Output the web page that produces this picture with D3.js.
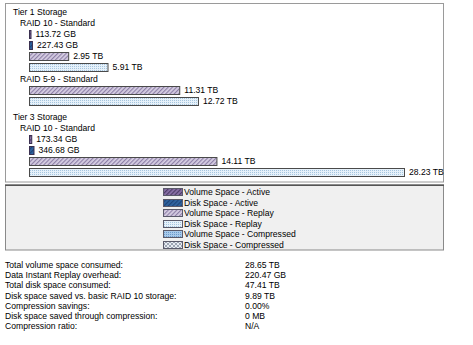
<!DOCTYPE html>
<html><head><meta charset="utf-8">
<script src="https://cdn.jsdelivr.net/npm/d3@7"></script>
<style>
html,body{margin:0;padding:0;background:#fff;}
svg{display:block;font-family:"Liberation Sans",Arial,sans-serif;}
</style></head>
<body>
<svg id="c" width="473" height="345"></svg>
<script>
const seriesNames = ["Volume Space - Active","Disk Space - Active","Volume Space - Replay","Disk Space - Replay","Volume Space - Compressed","Disk Space - Compressed"];
const tierNames = ["Tier 1 Storage","Tier 3 Storage"];
const groupNames = ["RAID 10 - Standard","RAID 5-9 - Standard","RAID 10 - Standard"];
const groupTier = [0,0,1];
const groupSeries = [[0,1,2,3],[2,3],[0,1,2,3]];
const groupValues = [[113.72,227.43,2.95,5.91],[11.31,12.72],[173.34,346.68,14.11,28.23]];
const groupUnits = [["GB","GB","TB","TB"],["TB","TB"],["GB","GB","TB","TB"]];
const summaryLabels = ["Total volume space consumed:","Data Instant Replay overhead:","Total disk space consumed:","Disk space saved vs. basic RAID 10 storage:","Compression savings:","Disk space saved through compression:","Compression ratio:"];
const summaryValues = ["28.65 TB","220.47 GB","47.41 TB","9.89 TB","0.00%","0 MB","N/A"];

const svg = d3.select("#c");
const FS = 8.6;
const defs = svg.append("defs");
function stripes(id,bg,fg){
  const p = defs.append("pattern").attr("id",id).attr("patternUnits","userSpaceOnUse")
    .attr("width",3).attr("height",3).attr("patternTransform","rotate(45)");
  p.append("rect").attr("width",3).attr("height",3).attr("fill",bg);
  p.append("rect").attr("width",1.2).attr("height",3).attr("fill",fg);
}
function dots(id,bg,fg){
  const p = defs.append("pattern").attr("id",id).attr("patternUnits","userSpaceOnUse")
    .attr("width",2).attr("height",2);
  p.append("rect").attr("width",2).attr("height",2).attr("fill",bg);
  p.append("rect").attr("width",1).attr("height",1).attr("fill",fg);
}
function checker(id,bg,fg){
  const p = defs.append("pattern").attr("id",id).attr("patternUnits","userSpaceOnUse")
    .attr("width",4).attr("height",4);
  p.append("rect").attr("width",4).attr("height",4).attr("fill",bg);
  p.append("path").attr("d","M0,0L4,4M4,0L0,4").attr("stroke",fg).attr("stroke-width",0.8);
}
stripes("p0","#8a72a8","#4e3c68");
stripes("p1","#2f64a0","#1d4478");
stripes("p2","#d8d0e4","#8e80a8");
dots("p3","#e6f1fa","#a6c6df");
dots("p4","#a8c9ea","#6b9bcb");
checker("p5","#e8ecf2","#8a94a4");
const fills = seriesNames.map((d,i)=>"url(#p"+i+")");

// top panel
svg.append("rect").attr("x",5.5).attr("y",3.5).attr("width",438).attr("height",178.5)
  .attr("fill","#fff").attr("stroke","#9a9a9a");

const toTB = (v,u)=> u==="GB" ? v/1024 : v;
const maxTB = d3.max(groupValues.flatMap((g,gi)=>g.map((v,i)=>toTB(v,groupUnits[gi][i]))));
const x = d3.scaleLinear().domain([0,maxTB]).range([29,404]);

// layout rows
const rows = [];
let cy = 12, lastTier = -1;
groupNames.forEach((g,gi)=>{
  if (groupTier[gi] !== lastTier){
    if (lastTier !== -1) cy += 5;
    rows.push({type:"tier",text:tierNames[groupTier[gi]],y:cy}); cy += 11;
    lastTier = groupTier[gi];
  } else { cy += 1; }
  rows.push({type:"group",text:g,y:cy}); cy += 11;
  groupValues[gi].forEach((v,i)=>{
    rows.push({type:"bar",s:groupSeries[gi][i],v:v,u:groupUnits[gi][i],y:cy});
    if (i < groupValues[gi].length-1) cy += 11;
  });
  cy += 11;
});

const g = svg.append("g");
g.selectAll("text.h").data(rows.filter(r=>r.type!=="bar")).join("text")
  .attr("x",r=>r.type==="tier"?13:20).attr("y",r=>r.y).attr("dy","0.35em")
  .attr("font-size",FS).attr("fill","#000").text(r=>r.text);

const bars = rows.filter(r=>r.type==="bar");
g.selectAll("rect.b").data(bars).join("rect")
  .attr("x",x(0)+0.5).attr("y",r=>r.y-4+0.5)
  .attr("width",r=>Math.max(x(toTB(r.v,r.u))-x(0),1.5)).attr("height",8)
  .attr("fill",r=>fills[r.s]).attr("stroke",r=>r.s<2?"#3a3050":"#4a4a4a").attr("stroke-width",1);
g.selectAll("text.v").data(bars).join("text")
  .attr("x",r=>x(0)+Math.max(x(toTB(r.v,r.u))-x(0),1.5)+5).attr("y",r=>r.y).attr("dy","0.35em")
  .attr("font-size",FS).attr("fill","#000").text(r=>d3.format(".2f")(r.v)+" "+r.u);

// legend panel
svg.append("rect").attr("x",5.5).attr("y",184.5).attr("width",438).attr("height",65.5)
  .attr("fill","#f0f0f0").attr("stroke","#8a8a8a");
svg.append("line").attr("x1",5).attr("x2",444).attr("y1",185.5).attr("y2",185.5).attr("stroke","#555");
const lg = svg.append("g");
const ly = d3.scalePoint().domain(seriesNames).range([192,244.5]);
lg.selectAll("rect").data(seriesNames).join("rect")
  .attr("x",163.5).attr("y",d=>Math.round(ly(d))-3.5).attr("width",19).attr("height",7)
  .attr("fill",(d,i)=>fills[i]).attr("stroke","#5a5a6a");
lg.selectAll("text").data(seriesNames).join("text")
  .attr("x",184).attr("y",d=>Math.round(ly(d))).attr("dy","0.35em")
  .attr("font-size",FS).attr("fill","#000").text(d=>d);

// summary
const sy = d3.scalePoint().domain(summaryLabels).range([268,329]);
svg.append("g").selectAll("text").data(summaryLabels).join("text")
  .attr("x",5).attr("y",d=>sy(d)).attr("font-size",FS).attr("fill","#000").text(d=>d);
svg.append("g").selectAll("text").data(summaryValues).join("text")
  .attr("x",245).attr("y",(d,i)=>sy(summaryLabels[i])).attr("font-size",FS).attr("fill","#000").text(d=>d);
</script>
</body></html>
